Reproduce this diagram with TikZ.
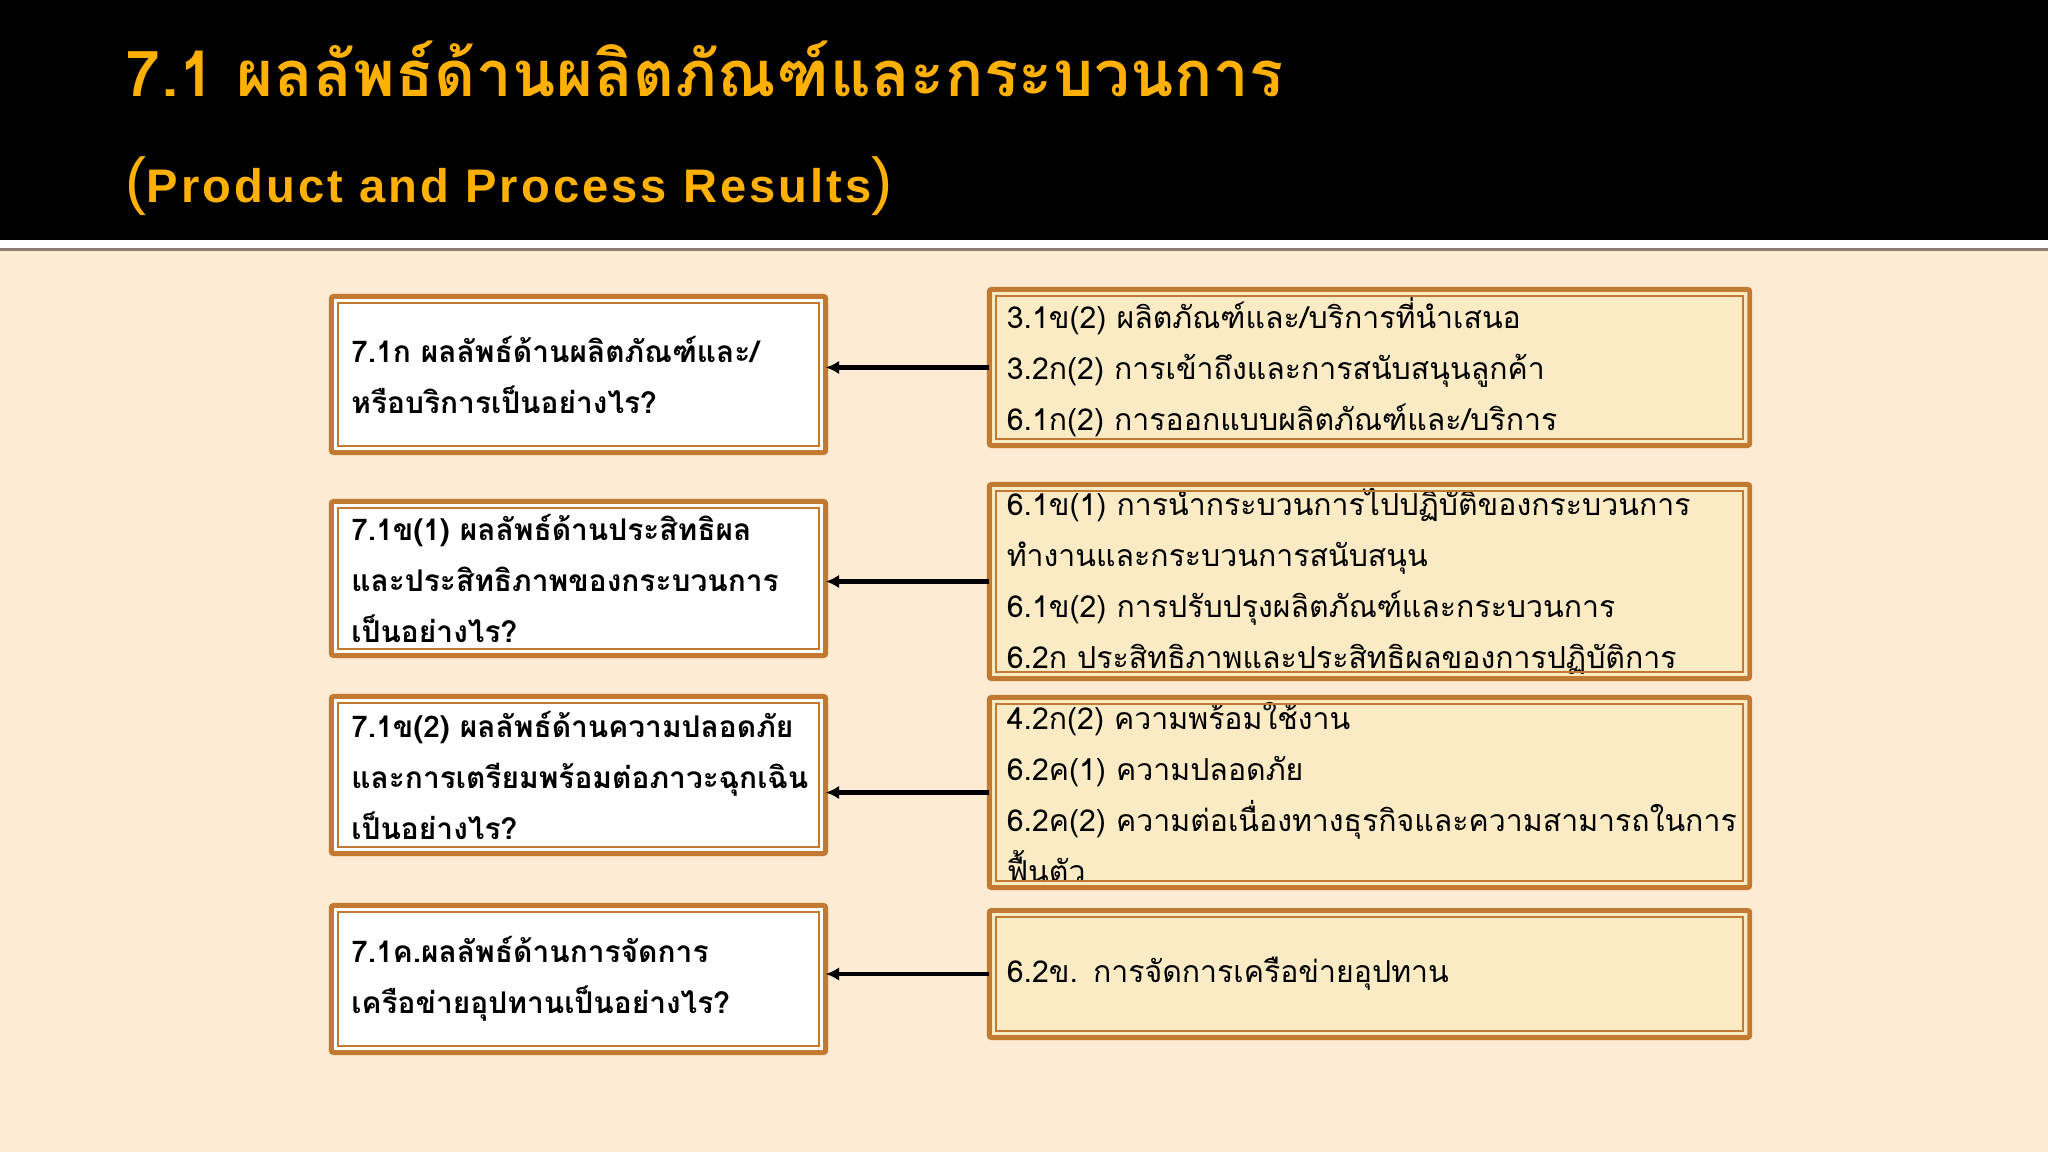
\documentclass[tikz,border=0pt]{standalone}
\usepackage{fontspec}
\usepackage{tikz}
\usetikzlibrary{arrows.meta}
\setmainfont{Liberation Sans}
\newfontfamily\thaifont[Script=Thai]{Loma}
\newfontfamily\thaiwide[Script=Thai,LetterSpace=1]{Loma}
\newfontfamily\engfont{Liberation Sans}
\newfontfamily\engwide[LetterSpace=6.5]{Liberation Sans}
\definecolor{titlegold}{HTML}{FFB000}
\definecolor{boxbrown}{HTML}{C27A33}
\definecolor{slidebg}{HTML}{FDEBD3}
\definecolor{notefill}{HTML}{FAEBC5}

\begin{document}
\begin{tikzpicture}[x=0.01cm, y=-0.01cm,
    qbox/.style={draw=boxbrown, line width=1.4pt, rounded corners=0.6pt, fill=white,
      outer sep=0pt, inner sep=0pt, minimum width=4.94cm, text width=4.54cm, align=left,
      font=\thaifont\bfseries\fontsize{8.5}{14.5}\selectfont},
    rbox/.style={qbox, fill=notefill, minimum width=7.6cm, text width=7.25cm,
      font=\thaifont\fontsize{8.6}{14.5}\selectfont},
    inline/.style={draw=boxbrown, line width=0.45pt},
    link/.style={-{Latex[length=3.8pt,width=3.8pt]}, line width=1.3pt}]
  \useasboundingbox (0,0) rectangle (2048,1152);
  \fill[slidebg] (0,0) rectangle (2048,1152);
  \fill[black] (0,0) rectangle (2048,240);
  \fill[white] (0,240) rectangle (2048,248);
  \fill[gray!80!brown] (0,248) rectangle (2048,251);

  \node[anchor=base west, inner sep=0pt, text=titlegold,
    font=\thaiwide\bfseries\fontsize{18}{18}\selectfont] (title) at (125,97)
    {7.1 ผลลัพธ์ด้านผลิตภัณฑ์และกระบวนการ};
  \node[anchor=base west, inner sep=0pt, text=titlegold] (subtitle) at (125,203)
    {{\engfont\fontsize{18}{18}\selectfont(}{\engwide\bfseries\fontsize{13.4}{16}\selectfont Product and Process Results}{\engfont\fontsize{18}{18}\selectfont)}};

  % questions on the left
  \node[qbox, minimum height=1.56cm] (q1) at (578.5,374.5)
    {7.1ก ผลลัพธ์ด้านผลิตภัณฑ์และ/\\หรือบริการเป็นอย่างไร?};
  \node[qbox, minimum height=1.54cm] (q2) at (578.5,578.5)
    {7.1ข(1) ผลลัพธ์ด้านประสิทธิผล\\และประสิทธิภาพของกระบวนการ\\เป็นอย่างไร?};
  \node[qbox, minimum height=1.57cm] (q3) at (578.5,775)
    {7.1ข(2) ผลลัพธ์ด้านความปลอดภัย\\และการเตรียมพร้อมต่อภาวะฉุกเฉิน\\เป็นอย่างไร?};
  \node[qbox, minimum height=1.47cm] (q4) at (578.5,979)
    {7.1ค.ผลลัพธ์ด้านการจัดการ\\เครือข่ายอุปทานเป็นอย่างไร?};

  % linked items on the right
  \node[rbox, minimum height=1.56cm] (r1) at (1369.5,367.5)
    {3.1ข(2) ผลิตภัณฑ์และ/บริการที่นำเสนอ\\3.2ก(2) การเข้าถึงและการสนับสนุนลูกค้า\\6.1ก(2) การออกแบบผลิตภัณฑ์และ/บริการ};
  \node[rbox, minimum height=1.94cm] (r2) at (1369.5,581.5)
    {6.1ข(1) การนำกระบวนการไปปฏิบัติของกระบวนการ\\ทำงานและกระบวนการสนับสนุน\\6.1ข(2) การปรับปรุงผลิตภัณฑ์และกระบวนการ\\6.2ก ประสิทธิภาพและประสิทธิผลของการปฏิบัติการ};
  \node[rbox, minimum height=1.90cm] (r3) at (1369.5,792.5)
    {4.2ก(2) ความพร้อมใช้งาน\\6.2ค(1) ความปลอดภัย\\\mbox{6.2ค(2) ความต่อเนื่องทางธุรกิจและความสามารถในการ}\\ฟื้นตัว};
  \node[rbox, minimum height=1.27cm] (r4) at (1369.5,974)
    {6.2ข. การจัดการเครือข่ายอุปทาน};

  \foreach \n in {q1,q2,q3,q4,r1,r2,r3,r4}
    \draw[inline] ([xshift=1.85pt,yshift=-1.85pt]\n.north west) rectangle ([xshift=-1.85pt,yshift=1.85pt]\n.south east);

  \foreach \i in {1,2,3,4}
    \draw[link] (r\i.west) -- (r\i.west -| q\i.east);
\end{tikzpicture}
\end{document}
